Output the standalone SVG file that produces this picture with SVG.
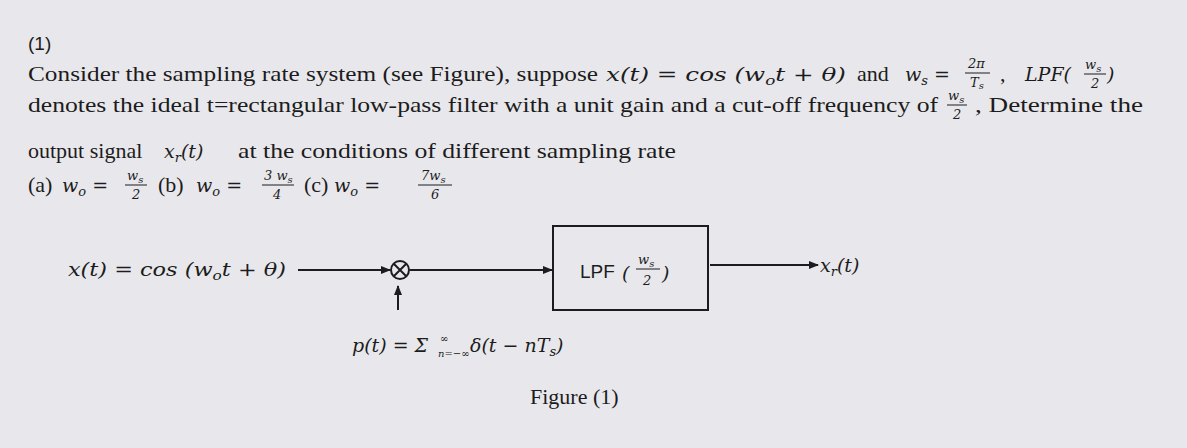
<svg xmlns="http://www.w3.org/2000/svg" width="1187" height="448" viewBox="0 0 1187 448">
<defs>
<style>
text{font-family:"Liberation Serif",serif;font-size:22px;fill:#1c1c20}
.m{font-style:italic;font-family:"DejaVu Serif","Liberation Serif",serif;font-size:19px}
.s{font-size:13px}
.t{font-size:10px}
.ss{font-family:"Liberation Sans",sans-serif;font-size:19px}
.ln{stroke:#1c1c20;stroke-width:2;fill:none}
.fr{stroke:#1c1c20;stroke-width:1}
</style>
<marker id="a" markerWidth="10" markerHeight="8" refX="9" refY="4" orient="auto" markerUnits="userSpaceOnUse"><path d="M0,0L10,4L0,8z" fill="#1c1c20"/></marker>
</defs>
<rect width="1187" height="448" fill="#e8e8ec"/>
<text x="28" y="50" class="ss">(1)</text>
<text x="28" y="81" textLength="570" lengthAdjust="spacingAndGlyphs">Consider the sampling rate system (see Figure), suppose</text>
<text x="606" y="81" class="m" textLength="240" lengthAdjust="spacingAndGlyphs">x(t) = cos (w<tspan class="s" dy="4">o</tspan><tspan dy="-4">t + θ)</tspan></text>
<text x="857" y="81">and</text>
<text x="905" y="81" class="m">w<tspan class="s" dy="4">s</tspan><tspan dy="-4"> =</tspan></text>
<text x="968" y="68" class="m s">2π</text><line x1="965" y1="73" x2="990" y2="73" class="fr"/><text x="970" y="87" class="m s">T<tspan class="t" dy="2">s</tspan></text>
<text x="1000" y="81">,</text>
<text x="1025" y="81" class="m">LPF(</text><text x="1085" y="69" class="m s">w<tspan class="t" dy="3">s</tspan></text><line x1="1084" y1="74" x2="1106" y2="74" class="fr"/><text x="1091" y="88" class="m s">2</text><text x="1107" y="81" class="m">)</text>
<text x="28" y="112" textLength="910" lengthAdjust="spacingAndGlyphs">denotes the ideal t=rectangular low-pass filter with a unit gain and a cut-off frequency of</text>
<text x="948" y="100" class="m s">w<tspan class="t" dy="3">s</tspan></text><line x1="947" y1="105" x2="967" y2="105" class="fr"/><text x="953" y="119" class="m s">2</text>
<text x="975" y="112" textLength="168" lengthAdjust="spacingAndGlyphs">, Determine the</text>
<text x="28" y="158">output signal</text>
<text x="164" y="158" class="m">x<tspan class="s" dy="4">r</tspan><tspan dy="-4">(t)</tspan></text>
<text x="238" y="158" textLength="438" lengthAdjust="spacingAndGlyphs">at the conditions of different sampling rate</text>
<text x="28" y="192">(a)</text><text x="62" y="192" class="m">w<tspan class="s" dy="4">o</tspan><tspan dy="-4"> =</tspan></text>
<text x="127" y="180" class="m s">w<tspan class="t" dy="3">s</tspan></text><line x1="125" y1="185" x2="147" y2="185" class="fr"/><text x="132" y="199" class="m s">2</text>
<text x="158" y="192">(b)</text><text x="196" y="192" class="m">w<tspan class="s" dy="4">o</tspan><tspan dy="-4"> =</tspan></text>
<text x="264" y="180" class="m s">3 w<tspan class="t" dy="3">s</tspan></text><line x1="262" y1="185" x2="294" y2="185" class="fr"/><text x="273" y="199" class="m s">4</text>
<text x="304" y="192">(c)</text><text x="334" y="192" class="m">w<tspan class="s" dy="4">o</tspan><tspan dy="-4"> =</tspan></text>
<text x="421" y="180" class="m s">7w<tspan class="t" dy="3">s</tspan></text><line x1="418" y1="185" x2="452" y2="185" class="fr"/><text x="431" y="199" class="m s">6</text>
<g id="input"><text x="68" y="276" class="m" textLength="218" lengthAdjust="spacingAndGlyphs">x(t) = cos (w<tspan class="s" dy="4">o</tspan><tspan dy="-4">t + θ)</tspan></text></g>
<g id="mult"><circle cx="400" cy="270" r="9" class="ln"/><path d="M394,264L406,276M406,264L394,276" class="ln"/></g>
<g id="lpf"><rect x="553" y="226" width="155" height="84" class="ln"/><text x="580" y="278" class="ss">LPF</text><text x="622" y="280" class="m">(</text><text x="638" y="264" class="m s">w<tspan class="t" dy="3">s</tspan></text><line x1="636" y1="269" x2="660" y2="269" class="fr"/><text x="643" y="285" class="m s">2</text><text x="662" y="280" class="m">)</text></g>
<g id="output"><text x="820" y="272" class="m">x<tspan class="s" dy="4">r</tspan><tspan dy="-4">(t)</tspan></text></g>
<g id="pulse"><text x="352" y="352" class="m">p(t) = Σ</text><text x="440" y="342" class="m t">∞</text><text x="438" y="357" class="m t">n=−∞</text><text x="470" y="352" class="m">δ(t − nT<tspan class="s" dy="4">s</tspan><tspan dy="-4">)</tspan></text></g>
<text x="530" y="404">Figure (1)</text>
<g id="connectors">
<line x1="298" y1="270" x2="390" y2="270" class="ln" marker-end="url(#a)"/>
<line x1="410" y1="270" x2="552" y2="270" class="ln" marker-end="url(#a)"/>
<line x1="710" y1="265" x2="818" y2="265" class="ln" marker-end="url(#a)"/>
<line x1="398" y1="310" x2="398" y2="286" class="ln" marker-end="url(#a)"/>
</g>
</svg>
